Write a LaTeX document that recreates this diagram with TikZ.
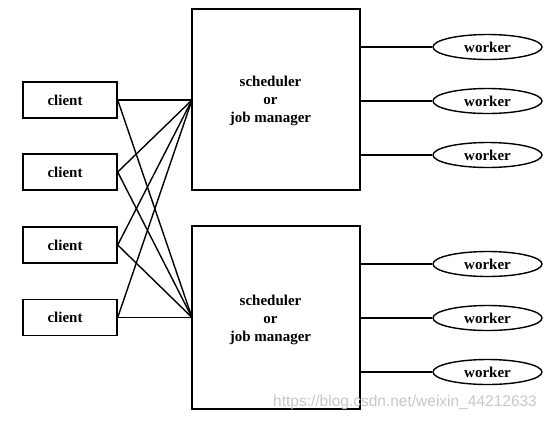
\documentclass[tikz,border=0pt]{standalone}
\usepackage{fontspec}
\setmainfont{Liberation Serif}
\newfontfamily\wmfont{Liberation Sans}
\usetikzlibrary{shapes.geometric}
\begin{document}
\begin{tikzpicture}[x=1pt,y=-1pt,
  every node/.style={font=\bfseries\fontsize{15}{18}\selectfont},
  clientbox/.style={draw,line width=1.4pt,minimum width=94pt,minimum height=36pt,inner sep=0pt,
    execute at begin node={\hspace*{-5pt}}, execute at end node={\hspace*{5pt}}},
  schedbox/.style={draw,line width=1.5pt,minimum width=168pt,inner sep=0pt},
  schedtext/.style={align=center,inner sep=0pt},
  workernode/.style={draw,ellipse,line width=1.4pt,minimum width=109pt,minimum height=25pt,inner sep=0pt},
  link/.style={line width=1.4pt}]
\useasboundingbox (0,0) rectangle (555,421);
% clients
\node[clientbox] (c1) at (70,100) {client};
\node[clientbox] (c2) at (70,172) {client};
\node[clientbox] (c3) at (70,245) {client};
\node[clientbox] (c4) at (70,317.5) {client};
% schedulers
\node[schedbox,minimum height=181pt] (s1) at (276,99.5) {};
\node[schedbox,minimum height=183pt] (s2) at (276,317.5) {};
\node[schedtext] (s1t) at (270.5,101) {scheduler\\or\\job manager};
\node[schedtext] (s2t) at (270.5,320) {scheduler\\or\\job manager};
\coordinate (s1in) at (192,100);
\coordinate (s2in) at (192,317.5);
% workers
\node[workernode] (w1) at (487.5,47) {worker};
\node[workernode] (w2) at (487.5,101) {worker};
\node[workernode] (w3) at (487.5,155) {worker};
\node[workernode] (w4) at (487.5,264) {worker};
\node[workernode] (w5) at (487.5,318) {worker};
\node[workernode] (w6) at (487.5,372) {worker};
% client links
\foreach \c in {c1,c2,c3,c4}{
  \draw[link] (\c.east) -- (s1in);
  \draw[link] (\c.east) -- (s2in);
}
% worker links
\draw[link] (s1.east |- w1.west) -- (w1.west);
\draw[link] (s1.east |- w2.west) -- (w2.west);
\draw[link] (s1.east |- w3.west) -- (w3.west);
\draw[link] (s2.east |- w4.west) -- (w4.west);
\draw[link] (s2.east |- w5.west) -- (w5.west);
\draw[link] (s2.east |- w6.west) -- (w6.west);
% watermark
\node[anchor=west,text=black!22,font=\wmfont\fontsize{15.5}{17}\selectfont,inner sep=0pt] (wm) at (273,402) {https://blog.csdn.net/weixin\_44212633};
\end{tikzpicture}
\end{document}
